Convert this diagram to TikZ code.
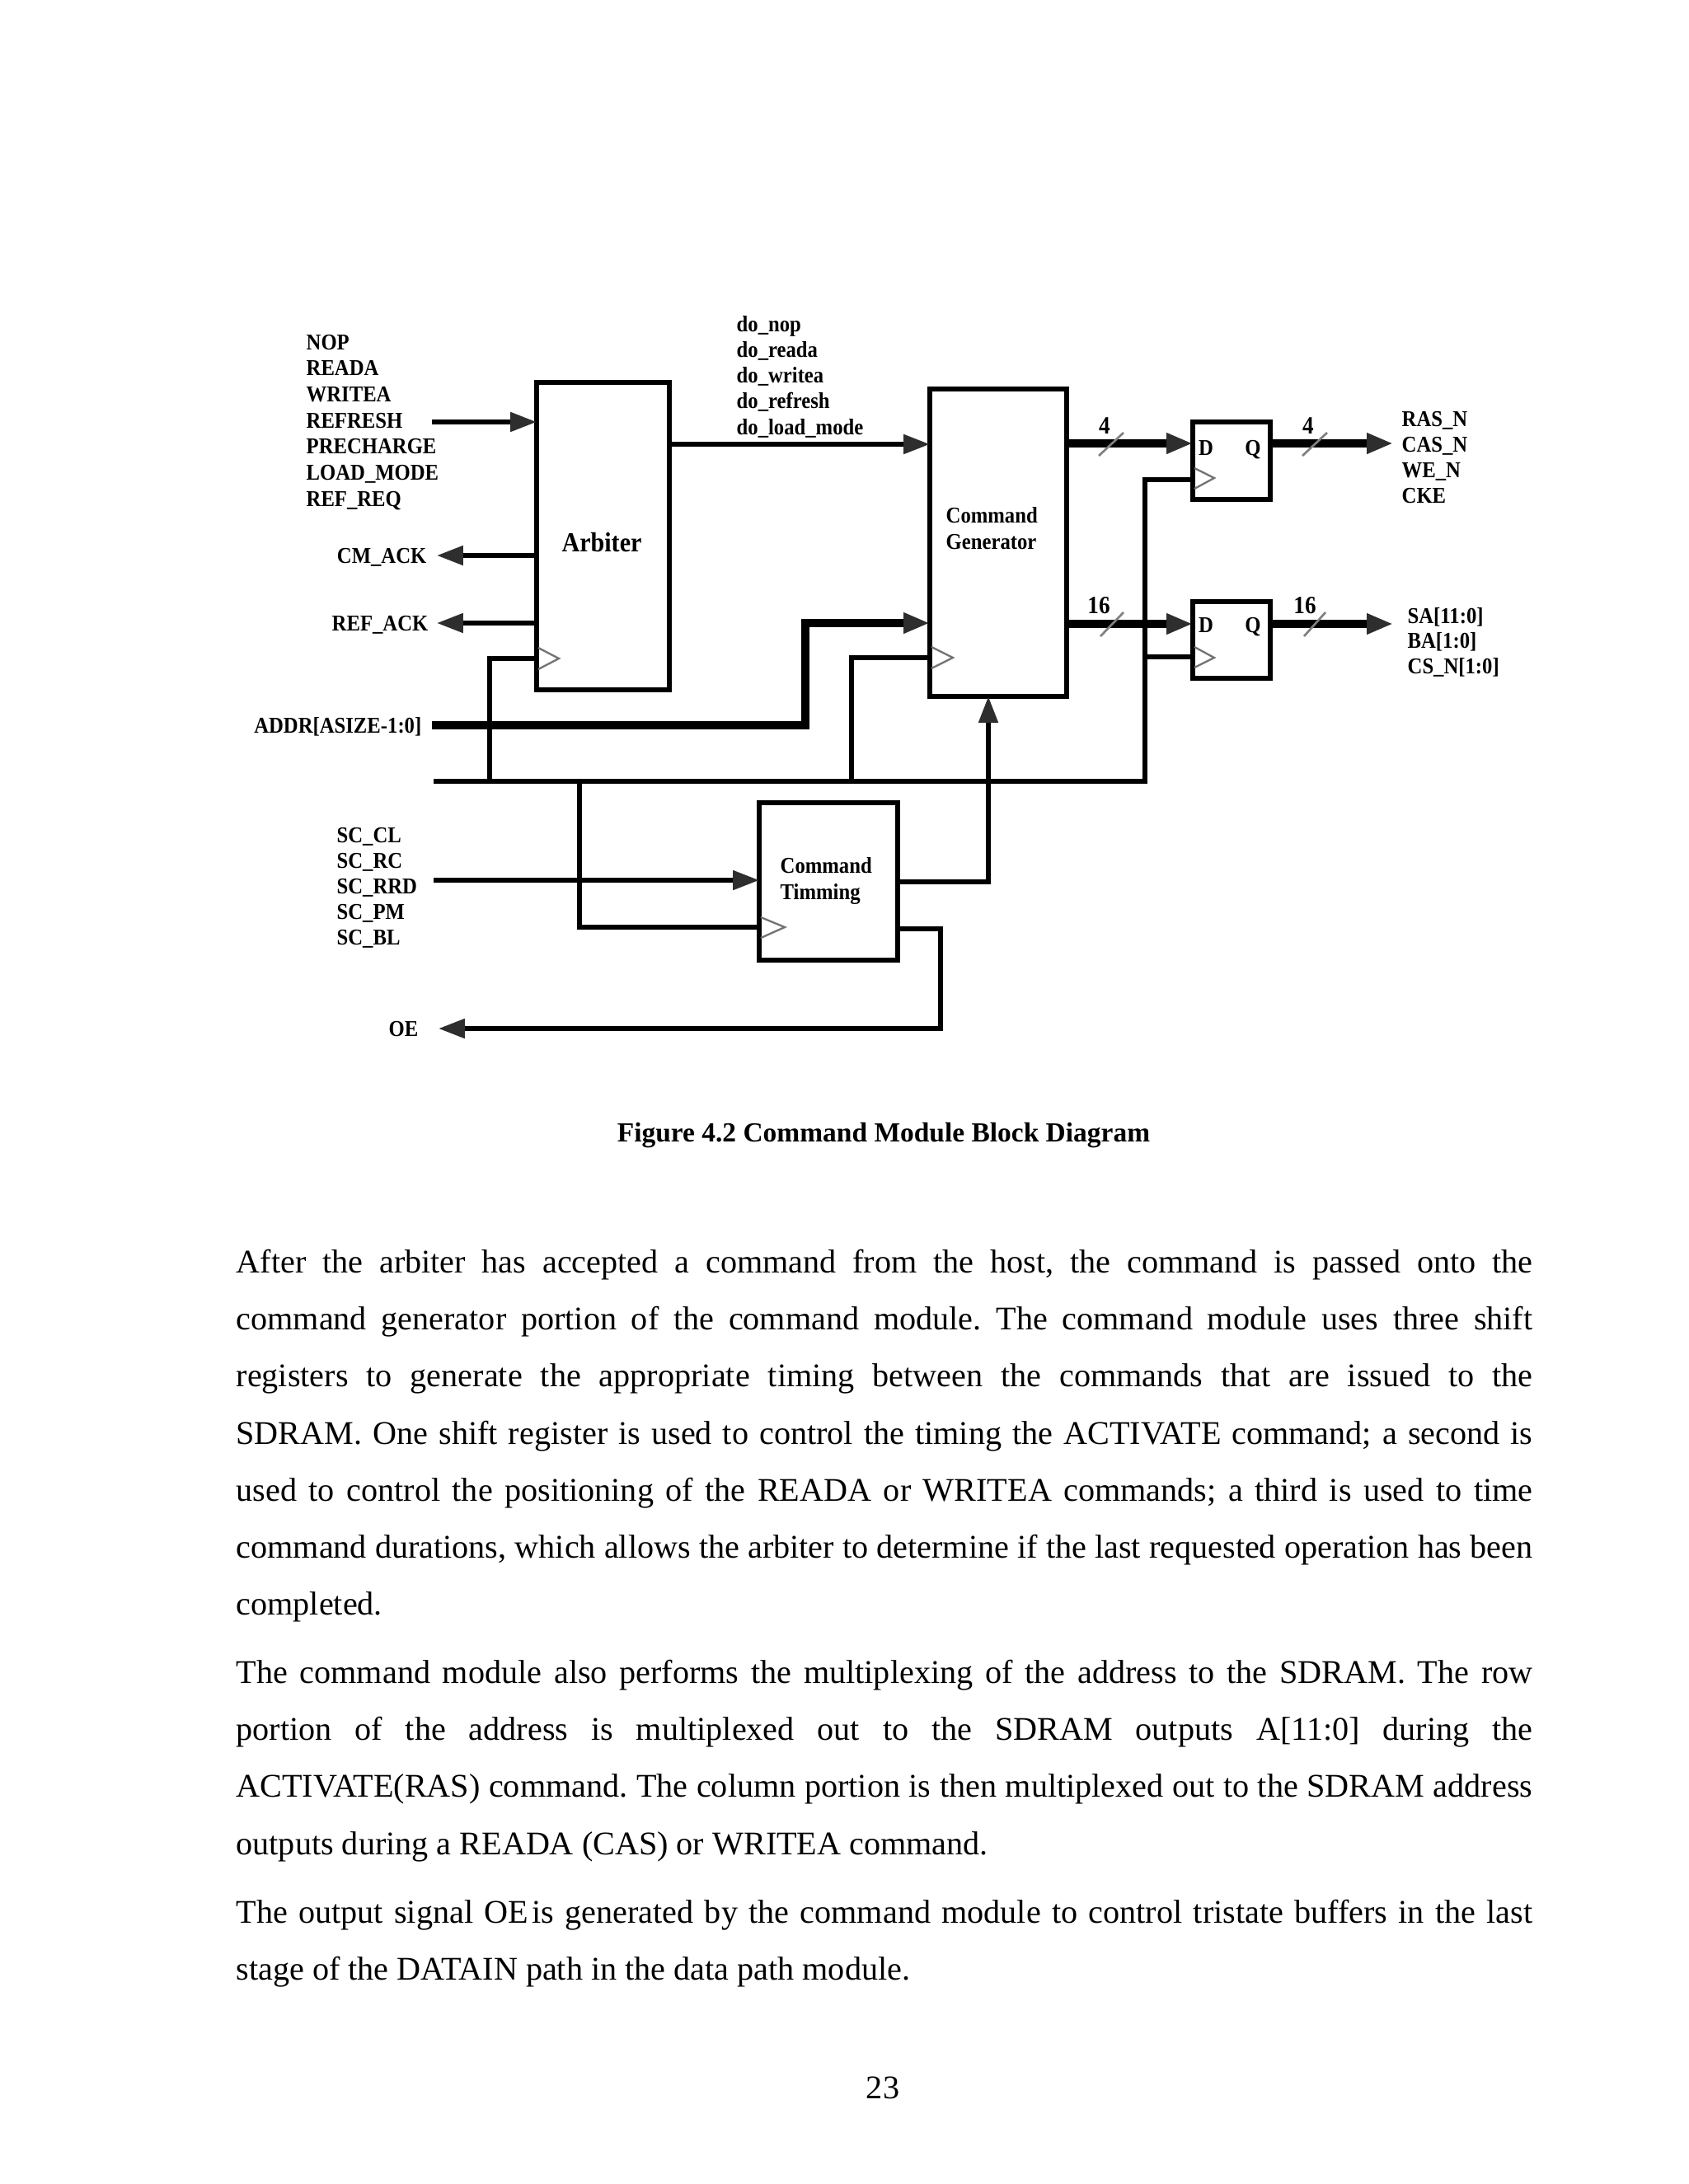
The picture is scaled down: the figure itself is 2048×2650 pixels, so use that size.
\documentclass[tikz,border=0pt]{standalone}
\usepackage{fontspec}
\setmainfont{Liberation Serif}
\newfontfamily\diafont[FakeStretch=0.9]{Liberation Serif}
\usetikzlibrary{arrows.meta}
\newcommand\pxu{0.29886pt}
\frenchspacing
\begin{document}
\begin{tikzpicture}[x=0.29886pt,y=-0.29886pt,
  box/.style={draw,line width=1.8pt,inner sep=0,outer sep=0},
  wire/.style={line width=1.65pt},
  arr/.style={wire,-{Triangle[length=9.5pt,width=6.8pt,color=black!82]}},
  bus/.style={line width=2.9pt},
  busarr/.style={bus,-{Triangle[length=9.5pt,width=7pt,color=black!82]}},
  lbl/.style={font=\diafont\fontsize{8.2}{9.5}\selectfont\bfseries,inner sep=0},
  clk/.style={draw=black!55,line width=0.7pt},
  slashmark/.style={draw=black!50,line width=0.8pt},
  body/.style={font=\fontsize{12}{14}\selectfont,inner sep=0,anchor=base west}]
\useasboundingbox[fill=white] (0,0) rectangle (2048,2650);

% ---------- blocks ----------
\node[box,minimum width=161*\pxu,minimum height=373*\pxu] (arb) at (731.5,650.5) {};
\node[box,minimum width=166*\pxu,minimum height=373*\pxu] (cg) at (1211,658.5) {};
\node[box,minimum width=168*\pxu,minimum height=191*\pxu] (ct) at (1005,1069.5) {};
\node[box,minimum width=94*\pxu,minimum height=94*\pxu] (dffa) at (1494,559) {};
\node[box,minimum width=94*\pxu,minimum height=93*\pxu] (dffb) at (1494,776.5) {};

\node[lbl,font=\diafont\fontsize{10}{12}\selectfont\bfseries] (arbl) at (730,658) {Arbiter};
\node[lbl,anchor=base west] (cgl1) at (1147,634) {Command};
\node[lbl,anchor=base west] (cgl2) at (1147,666) {Generator};
\node[lbl,anchor=base west] (ctl1) at (946,1059) {Command};
\node[lbl,anchor=base west] (ctl2) at (946,1091) {Timming};
\node[lbl,anchor=base] (dfad) at (1463,552) {D};
\node[lbl,anchor=base] (dfaq) at (1520,552) {Q};
\node[lbl,anchor=base] (dfbd) at (1463,767) {D};
\node[lbl,anchor=base] (dfbq) at (1520,767) {Q};

% clock triangles
\draw[clk] (653,786) -- (678,799) -- (653,812);
\draw[clk] (1130,785) -- (1156,798) -- (1130,811);
\draw[clk] (923,1113) -- (952,1125) -- (923,1138);
\draw[clk] (1449,568) -- (1473,580) -- (1449,593);
\draw[clk] (1449,785) -- (1473,798) -- (1449,810);

% ---------- input / output labels ----------
\foreach \t [count=\i from 0] in {NOP,READA,WRITEA,REFRESH,PRECHARGE,LOAD\_MODE,REF\_REQ}
  \node[lbl,anchor=base west] (in\i) at (371,424+31.67*\i) {\t};
\foreach \t [count=\i from 0] in {do\_nop,do\_reada,do\_writea,do\_refresh,do\_load\_mode}
  \node[lbl,anchor=base west] (do\i) at (893,402+31.25*\i) {\t};
\foreach \t [count=\i from 0] in {SC\_CL,SC\_RC,SC\_RRD,SC\_PM,SC\_BL}
  \node[lbl,anchor=base west] (sc\i) at (408,1022+31*\i) {\t};
\foreach \t [count=\i from 0] in {RAS\_N,CAS\_N,WE\_N,CKE}
  \node[lbl,anchor=base west] (ras\i) at (1700,517+31.3*\i) {\t};
\foreach \t [count=\i from 0] in {SA[11:0],BA[1:0],CS\_N[1:0]}
  \node[lbl,anchor=base west] (sa\i) at (1707,756+30.5*\i) {\t};
\node[lbl,anchor=base east] (cmack) at (518,683) {CM\_ACK};
\node[lbl,anchor=base east] (refack) at (520,765) {REF\_ACK};
\node[lbl,anchor=base east] (addr) at (512,889) {ADDR[ASIZE-1:0]};
\node[lbl,anchor=base east] (oe) at (508,1257) {OE};

\node[lbl,font=\diafont\fontsize{9}{10}\selectfont\bfseries,anchor=base] (w1) at (1340,526) {4};
\node[lbl,font=\diafont\fontsize{9}{10}\selectfont\bfseries,anchor=base] (w2) at (1587,526) {4};
\node[lbl,font=\diafont\fontsize{9}{10}\selectfont\bfseries,anchor=base] (w3) at (1333,744) {16};
\node[lbl,font=\diafont\fontsize{9}{10}\selectfont\bfseries,anchor=base] (w4) at (1583,744) {16};

% ---------- coordinates ----------
\coordinate (refin) at (524,512);
\coordinate (cmtip) at (530,674);
\coordinate (reftip) at (530,756);
\coordinate (addrin) at (524,880);
\coordinate (addrk1) at (977,880);
\coordinate (addrk2) at (977,756);
\coordinate (cmd) at (812,539);
\coordinate (qa) at (1294,538);
\coordinate (qb) at (1294,757);
\coordinate (outa) at (1690,538);
\coordinate (outb) at (1690,757);
\coordinate (busL) at (526,948);
\coordinate (busR) at (1389,948);
\coordinate (cka) at (1389,582);
\coordinate (ckb) at (1389,797);
\coordinate (aclk) at (594,799);
\coordinate (gclk) at (1033,798);
\coordinate (tclk) at (703,1125);
\coordinate (scin) at (526,1068);
\coordinate (ctout) at (1199,1070);
\coordinate (oe1) at (1141,1127);
\coordinate (oe2) at (1141,1248);
\coordinate (oetip) at (532,1248);

% ---------- connectors ----------
\draw[arr] (refin) -- (refin -| arb.west);
\draw[arr] (cmtip -| arb.west) -- (cmtip);
\draw[arr] (reftip -| arb.west) -- (reftip);
\draw[busarr] (addrin) -- (addrk1) -- (addrk2) -- (addrk2 -| cg.west);
\draw[arr] (cmd) -- (cmd -| cg.west);
\draw[busarr] (qa) -- (qa -| dffa.west);
\draw[busarr] (qb) -- (qb -| dffb.west);
\draw[busarr] (qa -| dffa.east) -- (outa);
\draw[busarr] (qb -| dffb.east) -- (outb);

\draw[wire] (busL) -- (busR) -- (cka) -- (cka -| dffa.west);
\draw[wire] (ckb) -- (ckb -| dffb.west);
\draw[wire] (aclk |- busL) -- (aclk) -- (aclk -| arb.west);
\draw[wire] (gclk |- busL) -- (gclk) -- (gclk -| cg.west);
\draw[wire] (tclk |- busL) -- (tclk) -- (tclk -| ct.west);
\draw[arr] (scin) -- (scin -| ct.west);
\draw[arr] (ctout -| ct.east) -- (ctout) -- (ctout |- cg.south);
\draw[arr] (oe1 -| ct.east) -- (oe1) -- (oe2) -- (oetip);

% bus width marks
\draw[slashmark] (1333,553) -- (1363,525);
\draw[slashmark] (1580,553) -- (1610,525);
\draw[slashmark] (1335,772) -- (1363,743);
\draw[slashmark] (1582,772) -- (1608,743);

% ---------- caption and text ----------
\node[font=\fontsize{10}{12}\selectfont\bfseries,anchor=base,inner sep=0] (cap) at (1072,1385) {Figure 4.2 Command Module Block Diagram};

\node[body] (p1) at (286,1544) {\makebox[470pt][s]{After the arbiter has accepted a command from the host, the command is passed onto the}};
\node[body] (p2) at (286,1613) {\makebox[470pt][s]{command generator portion of the command module. The command module uses three shift}};
\node[body] (p3) at (286,1682) {\makebox[470pt][s]{registers to generate the appropriate timing between the commands that are issued to the}};
\node[body] (p4) at (286,1752) {\makebox[470pt][s]{SDRAM. One shift register is used to control the timing the ACTIVATE command; a second is}};
\node[body] (p5) at (286,1821) {\makebox[470pt][s]{used to control the positioning of the READA or WRITEA commands; a third is used to time}};
\node[body] (p6) at (286,1890) {\makebox[470pt][s]{command durations, which allows the arbiter to determine if the last requested operation has been}};
\node[body] (p7) at (286,1959) {completed.};
\node[body] (p8) at (286,2042) {\makebox[470pt][s]{The command module also performs the multiplexing of the address to the SDRAM. The row}};
\node[body] (p9) at (286,2111) {\makebox[470pt][s]{portion of the address is multiplexed out to the SDRAM outputs A[11:0] during the}};
\node[body] (p10) at (286,2180) {\makebox[470pt][s]{ACTIVATE(RAS) command. The column portion is then multiplexed out to the SDRAM address}};
\node[body] (p11) at (286,2250) {outputs during a READA (CAS) or WRITEA command.};
\node[body] (p12) at (286,2333) {\makebox[470pt][s]{The output signal OE\hspace{1.3pt}is generated by the command module to control tristate buffers in the last}};
\node[body] (p13) at (286,2402) {stage of the DATAIN path in the data path module.};

\node[font=\fontsize{12}{14}\selectfont,anchor=base,inner sep=0] (pg) at (1071,2546) {23};
\end{tikzpicture}
\end{document}
